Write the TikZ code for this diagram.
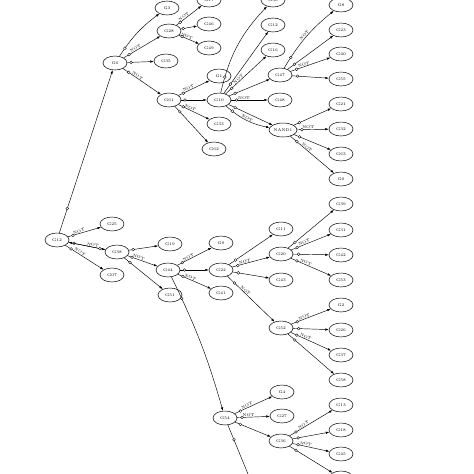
\documentclass[tikz,border=0pt]{standalone}
\usetikzlibrary{shapes.geometric,arrows.meta}
\begin{document}
\begin{tikzpicture}[x=1pt,y=-1pt,
 n/.style={ellipse,draw,line width=0.5pt,minimum width=24pt,minimum height=14pt,inner sep=0pt,font=\fontsize{4}{4}\selectfont},
 e/.style={draw,line width=0.45pt,-{Latex[length=3.5pt,width=2.4pt]}},
 mk/.style={circle,draw,line width=0.35pt,inner sep=0pt,minimum size=2.8pt,fill=white},
 lb/.style={font=\fontsize{4}{4}\selectfont,above,inner sep=0.6pt,sloped}]
\useasboundingbox (0,0) rectangle (474,474);
\node[n] (g12) at (57,240) {G12};
\node[n] (g6) at (115,63) {G6};
\node[n] (g3) at (167,8) {G3};
\node[n] (g28) at (169,31) {G28};
\node[n] (g17) at (209,0) {G17};
\node[n] (g46) at (209,24) {G46};
\node[n] (g49) at (209,48) {G49};
\node[n] (g35) at (166,61) {G35};
\node[n] (g61) at (169,100) {G61};
\node[n] (g1) at (219,76) {G1};
\node[n] (g10) at (219,100) {G10};
\node[n] (g33) at (219,124) {G33};
\node[n] (g62) at (214,149) {G62};
\node[n] (g30) at (273,0) {G30};
\node[n] (g12b) at (273,25) {G12};
\node[n] (g16) at (273,50) {G16};
\node[n] (g47) at (280,75) {G47};
\node[n] (g48) at (280,100) {G48};
\node[n,minimum width=28pt] (nand) at (283,130) {NAND1};
\node[n] (g8) at (341,5) {G8};
\node[n] (g23) at (341,30) {G23};
\node[n] (g40) at (341,54) {G40};
\node[n] (g55) at (341,79) {G55};
\node[n] (g21) at (341,104) {G21};
\node[n] (g32) at (341,129) {G32};
\node[n] (g63) at (341,154) {G63};
\node[n] (g0) at (341,179) {G0};
\node[n] (g25) at (112,224) {G25};
\node[n] (g38) at (117,252) {G38};
\node[n] (g07) at (112,275) {G07};
\node[n] (g19) at (170,244) {G19};
\node[n] (g44) at (168,270) {G44};
\node[n] (g51) at (170,295) {G51};
\node[n] (g9) at (221,243) {G9};
\node[n] (g22) at (221,270) {G22};
\node[n] (g41) at (221,293) {G41};
\node[n] (g11) at (281,229) {G11};
\node[n] (g20) at (281,254) {G20};
\node[n] (g43) at (281,280) {G43};
\node[n] (g52) at (281,328) {G52};
\node[n] (g39) at (341,204) {G39};
\node[n] (g31) at (341,230) {G31};
\node[n] (g42) at (341,255) {G42};
\node[n] (g53) at (341,280) {G53};
\node[n] (g2) at (341,305) {G2};
\node[n] (g26) at (341,330) {G26};
\node[n] (g37) at (341,355) {G37};
\node[n] (g58) at (341,380) {G58};
\node[n] (g54) at (225,418) {G54};
\node[n] (g4) at (282,392) {G4};
\node[n] (g27) at (282,416) {G27};
\node[n] (g36) at (281,441) {G36};
\node[n] (g13) at (341,405) {G13};
\node[n] (g18) at (341,430) {G18};
\node[n] (g45) at (341,454) {G45};
\node[n] (g5) at (341,478) {G5};
\def\E#1#2{\path[e] (#1) -- node[pos=.15,mk]{} (#2);}
\def\N#1#2{\path[e] (#1) -- node[pos=.15,mk]{} node[lb,pos=.35]{NOT} (#2);}
\E{g12}{g6}
\N{g12}{g25}\E{g12}{g38}\N{g38}{g12}\N{g12}{g07}
\path[e] (g6) to[bend left=10] node[pos=.15,mk]{} (g3);
\N{g6}{g28}\E{g6}{g35}\N{g6}{g61}
\N{g28}{g17}\E{g28}{g46}\N{g28}{g49}
\N{g61}{g1}\E{g61}{g10}\N{g61}{g33}\E{g61}{g62}
\path[e] (g10) to[bend left=15] node[pos=.15,mk]{} (g30);
\E{g10}{g12b}\N{g10}{g16}\E{g10}{g47}\N{g10}{g48}\E{g10}{nand}
\path[e] (g10) to[bend right=15] node[pos=.15,mk]{} node[lb,pos=.5]{NOT} (nand);
\path[e] (g47) to[bend left=10] node[pos=.15,mk]{} node[lb,pos=.5]{NOT} (g8);
\E{g47}{g23}\N{g47}{g40}\E{g47}{g55}
\E{nand}{g21}\N{nand}{g32}\E{nand}{g63}\N{nand}{g0}
\E{g38}{g19}\N{g38}{g44}\E{g38}{g51}
\N{g44}{g9}\E{g44}{g22}\N{g44}{g41}
\path[e] (g44) to[bend left=5] node[pos=.15,mk]{} (g54);
\E{g22}{g11}\N{g22}{g20}\E{g22}{g43}\N{g22}{g52}
\E{g20}{g39}\N{g20}{g31}\E{g20}{g42}\N{g20}{g53}
\N{g52}{g2}\E{g52}{g26}\N{g52}{g37}\E{g52}{g58}
\N{g54}{g4}\N{g54}{g27}\E{g54}{g36}
\path[draw,line width=0.45pt] (g54) -- node[pos=.3,mk]{} (248,474);
\N{g36}{g13}\E{g36}{g18}\N{g36}{g45}\E{g36}{g5}
\end{tikzpicture}
\end{document}
